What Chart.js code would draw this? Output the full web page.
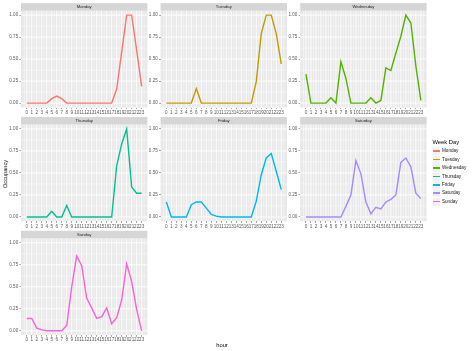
<!DOCTYPE html>
<html>
<head>
<meta charset="utf-8">
<script src="https://cdn.jsdelivr.net/npm/chart.js@4.4.1/dist/chart.umd.min.js"></script>
<style>
  html, body { margin:0; padding:0; background:#fff; }
  #root { position:relative; width:474px; height:351px; overflow:hidden; font-family:"Liberation Sans", Arial, sans-serif; }
  canvas { position:absolute; }
  .txt { position:absolute; white-space:nowrap; line-height:1; }
</style>
</head>
<body>
<div id="root"></div>
<script>
// ---------------- data ----------------
const hours = [0,1,2,3,4,5,6,7,8,9,10,11,12,13,14,15,16,17,18,19,20,21,22,23];
const yTickValues = [0, 0.25, 0.5, 0.75, 1];
const days = ['Monday','Tuesday','Wednesday','Thursday','Friday','Saturday','Sunday'];

const monday    = [0,0,0,0,0,0.05,0.08,0.05,0,0,0,0,0,0,0,0,0,0,0.16,0.58,1,1,0.6,0.19];
const tuesday   = [0,0,0,0,0,0,0.165,0,0,0,0,0,0,0,0,0,0,0,0.245,0.79,1,1,0.79,0.445];
const wednesday = [0.33,0,0,0,0,0.06,0,0.47,0.28,0,0,0,0,0.06,0,0.03,0.40,0.37,0.57,0.76,1,0.91,0.42,0.03];
const thursday  = [0,0,0,0,0,0.065,0,0,0.13,0,0,0,0,0,0,0,0,0,0.58,0.83,1,0.34,0.27,0.27];
const friday    = [0.17,0,0,0,0,0.14,0.17,0.17,0.10,0.03,0.01,0,0,0,0,0,0,0,0.18,0.48,0.67,0.72,0.52,0.31];
const saturday  = [0,0,0,0,0,0,0,0,0.12,0.25,0.64,0.49,0.17,0.035,0.11,0.09,0.17,0.20,0.25,0.62,0.67,0.57,0.27,0.21];
const sunday    = [0.14,0.14,0.03,0.01,0,0,0,0,0.06,0.50,0.85,0.74,0.37,0.26,0.14,0.16,0.26,0.08,0.15,0.35,0.76,0.56,0.24,0];

const series = [monday, tuesday, wednesday, thursday, friday, saturday, sunday];

// ---------------- style ----------------
const colors = ['#F8766D','#C49A00','#53B400','#00C094','#00B6EB','#A58AFF','#FB61D7'];
const FONT = '"Liberation Sans", Arial, sans-serif';
const colLefts = [21, 160.6, 300.2];
const rowTops  = [10.7, 124.55, 238.4];
const PW = 126.4, PH = 96.8;
const STRIP = 7.6, YW = 16, XH = 9;
const TICK_COLOR = '#5a5a5a';

const root = document.getElementById('root');

const panelPlugin = {
  id: 'panelDeco',
  beforeDraw(chart, args, opts) {
    const ctx = chart.ctx, ca = chart.chartArea;
    ctx.save();
    ctx.fillStyle = '#E8E8E8';
    ctx.fillRect(ca.left, ca.top, ca.right - ca.left, ca.bottom - ca.top);
    ctx.fillStyle = '#D6D6D6';
    ctx.fillRect(ca.left, ca.top - STRIP, ca.right - ca.left, STRIP);
    ctx.fillStyle = '#1A1A1A';
    ctx.font = '4.2px ' + FONT;
    ctx.textAlign = 'center';
    ctx.textBaseline = 'middle';
    ctx.fillText(opts.title, (ca.left + ca.right) / 2, ca.top - STRIP / 2 + 0.3);
    // grid lines through the scales
    const xs = chart.scales.x, ys = chart.scales.y;
    ctx.beginPath();
    ctx.rect(ca.left, ca.top, ca.right - ca.left, ca.bottom - ca.top);
    ctx.clip();
    ctx.strokeStyle = '#FFFFFF';
    // minor
    ctx.lineWidth = 0.45;
    for (let i = 0; i <= hours.length; i++) {
      const v = i - 0.5;
      const px = xs.getPixelForValue(v);
      ctx.beginPath(); ctx.moveTo(px, ca.top); ctx.lineTo(px, ca.bottom); ctx.stroke();
    }
    for (let i = 0; i < yTickValues.length - 1; i++) {
      const v = (yTickValues[i] + yTickValues[i + 1]) / 2;
      const py = ys.getPixelForValue(v);
      ctx.beginPath(); ctx.moveTo(ca.left, py); ctx.lineTo(ca.right, py); ctx.stroke();
    }
    // major
    ctx.lineWidth = 0.9;
    hours.forEach(h => {
      const px = xs.getPixelForValue(h);
      ctx.beginPath(); ctx.moveTo(px, ca.top); ctx.lineTo(px, ca.bottom); ctx.stroke();
    });
    yTickValues.forEach(v => {
      const py = ys.getPixelForValue(v);
      ctx.beginPath(); ctx.moveTo(ca.left, py); ctx.lineTo(ca.right, py); ctx.stroke();
    });
    ctx.restore();
  }
};

days.forEach((day, i) => {
  const r = Math.floor(i / 3), c = i % 3;
  const pl = colLefts[c], pt = rowTops[r];
  const left = Math.floor(pl - YW);
  const top = Math.floor(pt - STRIP - 0.5);
  const yW = pl - left;
  const padTop = pt - top;
  const width = Math.ceil(yW + PW + 1);
  const padRight = width - yW - PW;
  const height = Math.ceil(padTop + PH + XH);
  const xH = height - padTop - PH;

  const cv = document.createElement('canvas');
  cv.width = width; cv.height = height;
  cv.style.left = left + 'px'; cv.style.top = top + 'px';
  cv.style.width = width + 'px'; cv.style.height = height + 'px';
  root.appendChild(cv);

  new Chart(cv, {
    type: 'line',
    data: {
      datasets: [{
        label: day,
        data: hours.map((h, k) => ({ x: h, y: series[i][k] })),
        borderColor: colors[i],
        backgroundColor: colors[i],
        borderWidth: 1.4,
        pointRadius: 0,
        tension: 0,
        fill: false
      }]
    },
    options: {
      responsive: false,
      animation: false,
      events: [],
      devicePixelRatio: 1,
      layout: { padding: { top: padTop, right: padRight, left: 0, bottom: 0 } },
      plugins: {
        legend: { display: false },
        tooltip: { enabled: false },
        panelDeco: { title: day }
      },
      scales: {
        x: {
          type: 'linear',
          min: -1.15, max: 24.15,
          afterBuildTicks: s => { s.ticks = hours.map(v => ({ value: v })); },
          afterFit: s => { s.height = xH; },
          ticks: {
            autoSkip: false, maxRotation: 0, minRotation: 0,
            font: { size: 4.6, family: FONT }, color: TICK_COLOR, padding: 0.6,
            callback: v => String(v)
          },
          grid: { display: true, drawOnChartArea: false, drawTicks: true, tickLength: 1.6, tickColor: '#4d4d4d', lineWidth: 0.5 },
          border: { display: false }
        },
        y: {
          min: -0.05, max: 1.05,
          afterBuildTicks: s => { s.ticks = yTickValues.map(v => ({ value: v })); },
          afterFit: s => { s.width = yW; },
          ticks: {
            font: { size: 4.6, family: FONT }, color: TICK_COLOR, padding: 1.2,
            callback: v => Number(v).toFixed(2)
          },
          grid: { display: true, drawOnChartArea: false, drawTicks: true, tickLength: 1.6, tickColor: '#4d4d4d', lineWidth: 0.5 },
          border: { display: false }
        }
      }
    },
    plugins: [panelPlugin]
  });
});

// axis titles
function addText(t, css) {
  const d = document.createElement('div');
  d.className = 'txt';
  d.textContent = t;
  Object.assign(d.style, css);
  root.appendChild(d);
  return d;
}
addText('hour', { left: '222px', top: '346px', fontSize: '5.8px', color: '#000', transform: 'translate(-50%,-50%)' });
addText('Occupancy', { left: '5.5px', top: '174px', fontSize: '5.6px', color: '#000', transform: 'translate(-50%,-50%) rotate(-90deg)' });

// legend
addText('Week Day', { left: '432.5px', top: '143.3px', fontSize: '5.8px', color: '#000', transform: 'translateY(-50%)' });
days.forEach((day, i) => {
  const cy = 151.3 + 8.4 * i;
  const key = document.createElement('div');
  Object.assign(key.style, { position: 'absolute', left: '432.5px', top: (cy - 4) + 'px', width: '7.5px', height: '8px', background: '#F2F2F2' });
  const ln = document.createElement('div');
  Object.assign(ln.style, { position: 'absolute', left: '0.5px', width: '6.5px', top: '3.2px', height: '1.6px', background: colors[i] });
  key.appendChild(ln);
  root.appendChild(key);
  addText(day, { left: '442px', top: cy + 'px', fontSize: '4.6px', color: '#1A1A1A', transform: 'translateY(-50%)' });
});
</script>
</body>
</html>
